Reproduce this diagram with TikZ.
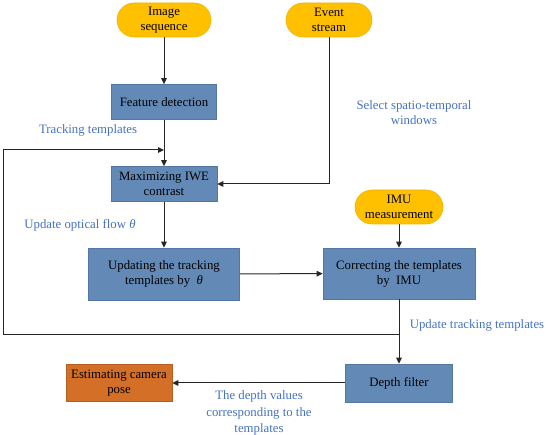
\documentclass[tikz,border=0pt]{standalone}
\usepackage{fontspec}
\setmainfont{Liberation Serif}
\usetikzlibrary{arrows.meta,positioning}
\definecolor{boxblue}{RGB}{99,137,182}
\definecolor{boxedge}{RGB}{84,120,165}
\definecolor{pillyel}{RGB}{255,192,0}
\definecolor{pilledge}{RGB}{240,180,0}
\definecolor{boxorange}{RGB}{212,111,39}
\definecolor{lblblue}{RGB}{68,114,196}
\begin{document}
\begin{tikzpicture}[x=1pt,y=-1pt,
  every node/.style={font=\fontsize{12.8}{15}\selectfont, align=center, inner sep=1pt},
  procbox/.style={rectangle, fill=boxblue, draw=boxedge, line width=0.6pt},
  pill/.style={rectangle, rounded corners=17pt, fill=pillyel, draw=pilledge, line width=0.6pt},
  endbox/.style={rectangle, fill=boxorange, draw=boxorange!85!black, line width=0.6pt},
  lbl/.style={text=lblblue},
  arr/.style={draw=black!85, line width=1pt, -{Triangle[length=6pt,width=5.5pt]}},
  ln/.style={draw=black!85, line width=1pt}
]
\useasboundingbox (0,0) rectangle (550,435);
% nodes
\node[pill, minimum width=94pt, minimum height=34pt] (img) at (164,20) {Image\\sequence};
\node[pill, minimum width=86pt, minimum height=34pt] (ev) at (329,20) {Event\\stream};
\node[procbox, minimum width=105pt, minimum height=35pt] (feat) at (164,102) {Feature detection};
\node[procbox, minimum width=106pt, minimum height=35pt] (maxi) at (164,184) {Maximizing IWE\\contrast};
\node[procbox, minimum width=151pt, minimum height=52pt] (upd) at (164,274) {Updating the tracking\\templates by\ \ \textit{θ}};
\node[pill, minimum width=88pt, minimum height=34pt] (imu) at (399,207) {IMU\\measurement};
\node[procbox, minimum width=152pt, minimum height=51pt] (corr) at (399,273.5) {Correcting the templates\\by\ \ IMU};
\node[procbox, minimum width=107pt, minimum height=38pt] (depth) at (399,383) {Depth filter};
\node[endbox, minimum width=106pt, minimum height=37pt] (est) at (119,383) {Estimating camera\\pose};
% labels
\node[lbl] (l1) at (88,130) {Tracking templates};
\node[lbl] (l2) at (414,113) {Select spatio-temporal\\windows};
\node[lbl] (l3) at (80,225) {Update optical flow \textit{θ}};
\node[lbl] (l4) at (477,325) {Update tracking templates};
\node[lbl, font=\fontsize{12.8}{16.5}\selectfont] (l5) at (259,413) {The depth values\\corresponding to the\\templates};
% coordinates for feedback loop
\coordinate (fbA) at (399,335);
\coordinate (fbB) at (3.5,335);
\coordinate (fbC) at (3.5,150);
\coordinate (fbD) at (164,150);
% connectors
\draw[arr] (img) -- (feat);
\draw[arr] (feat) -- (maxi);
\draw[arr] (ev.south) |- (maxi.east);
\draw[arr] (maxi) -- (upd);
\draw[arr] (upd) -- (corr);
\draw[arr] (imu) -- (corr);
\draw[arr] (corr) -- (depth);
\draw[arr] (fbA) -- (fbB) -- (fbC) -- (fbD);
\draw[arr] (depth) -- (est);
\end{tikzpicture}
\end{document}
